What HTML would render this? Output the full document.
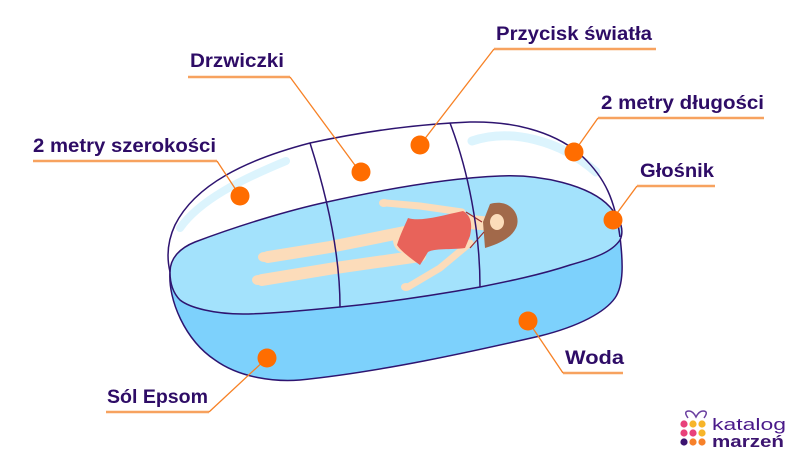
<!DOCTYPE html>
<html><head><meta charset="utf-8"><style>
html,body{margin:0;padding:0;background:#fff;}
svg{display:block;}
.l{font-family:"Liberation Sans",sans-serif;font-weight:bold;font-size:19px;fill:#2e0c66;}
</style></head><body>
<svg width="800" height="463" viewBox="0 0 800 463" xmlns="http://www.w3.org/2000/svg">
<!-- pool body -->
<path d="M170,272 C168,300 185,340 215,360 C240,378 275,382 300,380 C380,372 470,352 540,336 C580,326 605,312 615,298 C624,285 623,262 620,237 L170,272 Z" fill="#7dd1fc" stroke="#2e1470" stroke-width="1.5"/>
<!-- water surface -->
<path d="M170,272 C170,258 180,248 195,242 C240,225 290,210 327,202 C390,188 450,178 500,176 C540,174 590,185 610,207 C622,220 624,232 620,240 C612,252 595,258 570,265 C540,275 505,282 480,287 C430,296 380,303 340,307 C300,311 265,314 243,314 C215,314 190,308 180,300 C172,292 170,282 170,272 Z" fill="#a3e2fc" stroke="#2e1470" stroke-width="1.5"/>
<!-- dome highlights -->
<path d="M180,228 C200,200 240,180 286,161" stroke="#dcf4fd" stroke-width="8" fill="none" stroke-linecap="round"/>
<path d="M472,141 C510,128 560,140 596,172" stroke="#dcf4fd" stroke-width="9" fill="none" stroke-linecap="round"/>
<!-- woman -->
<g stroke-linecap="round" fill="none" stroke="#fcdcba">
<path d="M405,232 L330,247 L268,257" stroke-width="12"/>
<path d="M420,256 L335,268 L262,280" stroke-width="12"/>
<path d="M462,212 L420,206 L386,203" stroke-width="7"/>
<path d="M470,243 L440,268 L408,287" stroke-width="7"/>
<path d="M470,222 L492,224" stroke-width="14"/>
</g>
<ellipse cx="264" cy="257" rx="6" ry="5" fill="#fcdcba"/>
<ellipse cx="258" cy="280" rx="6" ry="5" fill="#fcdcba"/>
<ellipse cx="384" cy="203" rx="5" ry="4" fill="#fcdcba"/>
<ellipse cx="406" cy="287" rx="5" ry="4" fill="#fcdcba"/>
<ellipse cx="405" cy="240" rx="12" ry="13" fill="#fcdcba"/>
<path d="M408,218 C420,222 440,216 463,211 C470,215 473,222 470,236 L465,248 C450,250 435,248 428,252 L420,265 C410,258 400,250 397,245 C400,235 405,225 408,218 Z" fill="#e8635a"/>
<path d="M490,204 C510,198 522,215 516,228 C510,240 495,245 485,248 L483,222 Z" fill="#a2694a"/>
<ellipse cx="497" cy="222" rx="7" ry="8" fill="#fcdcba"/>
<path d="M466,212 L482,222 M470,248 L484,232" stroke="#9c2f2f" stroke-width="1.2"/>
<!-- dome -->
<path d="M170,272 C166,255 168,240 175,225 C195,185 245,160 310,143 C370,130 420,124 470,122 C520,121 560,135 583,157 C605,178 615,200 620,237" fill="none" stroke="#2e1470" stroke-width="1.5"/>
<path d="M310,143 C325,190 340,250 340,307" fill="none" stroke="#2e1470" stroke-width="1.5"/>
<path d="M450,123 C468,170 480,230 480,287" fill="none" stroke="#2e1470" stroke-width="1.5"/>
<!-- callout lines -->
<g stroke="#f7a25f" stroke-width="2.5" fill="none">
<path d="M33,161 H217"/><path d="M188,77 H290"/><path d="M494,49 H656"/>
<path d="M598,118 H764"/><path d="M637,186 H715"/><path d="M563,373 H623"/><path d="M106,412 H209"/>
</g>
<g stroke="#f78125" stroke-width="1.3" fill="none">
<path d="M217,161 L240,196"/><path d="M290,77 L360,172"/><path d="M494,49 L420,145"/>
<path d="M598,118 L574,152"/><path d="M637,186 L612,220"/><path d="M563,373 L528,321"/><path d="M209,412 L267,358"/>
</g>
<g fill="#ff6d00">
<circle cx="240" cy="196" r="9.5"/><circle cx="361" cy="172" r="9.5"/><circle cx="420" cy="145" r="9.5"/>
<circle cx="574" cy="152" r="9.5"/><circle cx="613" cy="220" r="9.5"/><circle cx="528" cy="321" r="9.5"/><circle cx="267" cy="358" r="9.5"/>
</g>
<!-- labels -->
<text class="l" x="33" y="152" textLength="183" lengthAdjust="spacingAndGlyphs">2 metry szerokości</text>
<text class="l" x="190" y="67" textLength="94" lengthAdjust="spacingAndGlyphs">Drzwiczki</text>
<text class="l" x="496" y="40" textLength="156" lengthAdjust="spacingAndGlyphs">Przycisk światła</text>
<text class="l" x="601" y="109" textLength="163" lengthAdjust="spacingAndGlyphs">2 metry długości</text>
<text class="l" x="640" y="177" textLength="74" lengthAdjust="spacingAndGlyphs">Głośnik</text>
<text class="l" x="565" y="364" textLength="59" lengthAdjust="spacingAndGlyphs">Woda</text>
<text class="l" x="107" y="403" textLength="101" lengthAdjust="spacingAndGlyphs">Sól Epsom</text>
<!-- logo -->
<path d="M688,418 q-5,-7 1,-7 q4,0 7,6 q3,-6 7,-6 q6,0 1,7" fill="none" stroke="#6a3fa0" stroke-width="1.5"/>
<circle cx="684" cy="424" r="3.6" fill="#e8417a"/><circle cx="693" cy="424" r="3.6" fill="#f7b52a"/><circle cx="702" cy="424" r="3.6" fill="#f7b52a"/>
<circle cx="684" cy="433" r="3.6" fill="#e8417a"/><circle cx="693" cy="433" r="3.6" fill="#e8417a"/><circle cx="702" cy="433" r="3.6" fill="#f7b52a"/>
<circle cx="684" cy="442" r="3.6" fill="#3c1470"/><circle cx="693" cy="442" r="3.6" fill="#f7812a"/><circle cx="702" cy="442" r="3.6" fill="#f7812a"/>
<text x="712" y="430" font-family="Liberation Sans,sans-serif" font-size="17" fill="#4a1a8a" textLength="74" lengthAdjust="spacingAndGlyphs">katalog</text>
<text x="712" y="447" font-family="Liberation Sans,sans-serif" font-weight="bold" font-size="17" fill="#3c1470" textLength="72" lengthAdjust="spacingAndGlyphs">marzeń</text>
</svg>
</body></html>
